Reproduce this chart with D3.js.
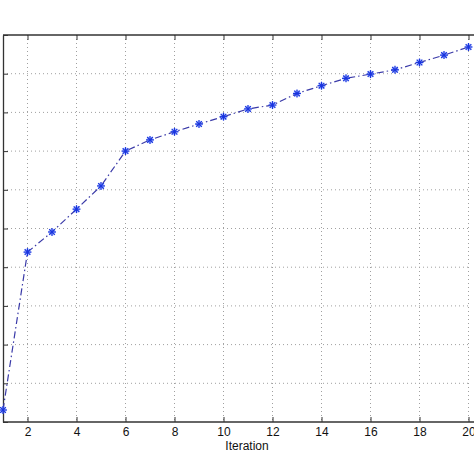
<!DOCTYPE html>
<html><head><meta charset="utf-8">
<script src="https://cdn.jsdelivr.net/npm/d3@7/dist/d3.min.js"></script>
<style>body{margin:0;background:#fff}svg{display:block}</style>
</head><body>
<script>
const iterations = [1,2,3,4,5,6,7,8,9,10,11,12,13,14,15,16,17,18,19,20];
const values = [0.31,4.39,4.91,5.50,6.10,7.00,7.29,7.50,7.70,7.89,8.09,8.19,8.49,8.69,8.88,8.99,9.10,9.29,9.48,9.69];
const xTicks = [2,4,6,8,10,12,14,16,18,20];
const yTicks = [0,1,2,3,4,5,6,7,8,9,10];
const xLabel = "Iteration";

const W=474,H=474;
const L=3,R=468.5,T=35,B=422;
const svg=d3.select("body").append("svg").attr("width",W).attr("height",H);
const x=d3.scaleLinear().domain([1,20]).range([L,R]);
const y=d3.scaleLinear().domain([0,10]).range([B,T]);
const font="'Liberation Sans', Arial, Helvetica, sans-serif";

// grid
const g=svg.append("g");
g.selectAll(".vg").data(xTicks).join("line")
 .attr("x1",d=>x(d)).attr("x2",d=>x(d)).attr("y1",T).attr("y2",B)
 .attr("stroke","#a0a0a0").attr("stroke-width",1).attr("stroke-dasharray","1,3");
g.selectAll(".hg").data(yTicks.slice(1,-1)).join("line")
 .attr("x1",L).attr("x2",R+2).attr("y1",d=>y(d)).attr("y2",d=>y(d))
 .attr("stroke","#a0a0a0").attr("stroke-width",1).attr("stroke-dasharray","1,3");

// axes
const xb=svg.append("g").attr("transform",`translate(0,${B})`)
 .call(d3.axisBottom(x).tickValues(xTicks).tickSizeInner(-5).tickSizeOuter(0).tickPadding(5));
const xt=svg.append("g").attr("transform",`translate(0,${T})`)
 .call(d3.axisTop(x).tickValues(xTicks).tickSizeInner(-5).tickSizeOuter(0).tickFormat(""));
const yl=svg.append("g").attr("transform",`translate(${L},0)`)
 .call(d3.axisLeft(y).tickValues(yTicks).tickSizeInner(-5).tickSizeOuter(0).tickFormat(""));
[xb,xt].forEach(a=>a.select(".domain").attr("d",`M${L},0H${W}`));
[xb,xt,yl].forEach(a=>{
  a.select(".domain").attr("stroke","#333").attr("stroke-width",1.3);
  a.selectAll(".tick line").attr("stroke","#333");
  a.selectAll("text").attr("font-family",font).attr("font-size",12).attr("fill","#111");
});

svg.append("text").attr("x",247).attr("y",450).attr("text-anchor","middle")
 .attr("font-family",font).attr("font-size",12).attr("fill","#111").text(xLabel);

// line
const line=d3.line().x((d,i)=>x(iterations[i])).y(d=>y(d));
svg.append("path").datum(values).attr("d",line).attr("fill","none")
 .attr("stroke","#3a3aa8").attr("stroke-width",1.2).attr("stroke-dasharray","7,3,1.5,3");

// star markers
const mk=svg.append("g");
values.forEach((v,i)=>{
  const cx=x(iterations[i]), cy=y(v);
  const m=mk.append("g").attr("transform",`translate(${cx},${cy})`);
  m.append("circle").attr("r",3.5).attr("fill","#7a9cff").attr("opacity",0.45);
  [0,45,90,135].forEach(a=>{
    m.append("line").attr("x1",-4).attr("x2",4).attr("y1",0).attr("y2",0)
     .attr("transform",`rotate(${a})`).attr("stroke","#1a35e0").attr("stroke-width",1.2);
  });
});
</script>
</body></html>
